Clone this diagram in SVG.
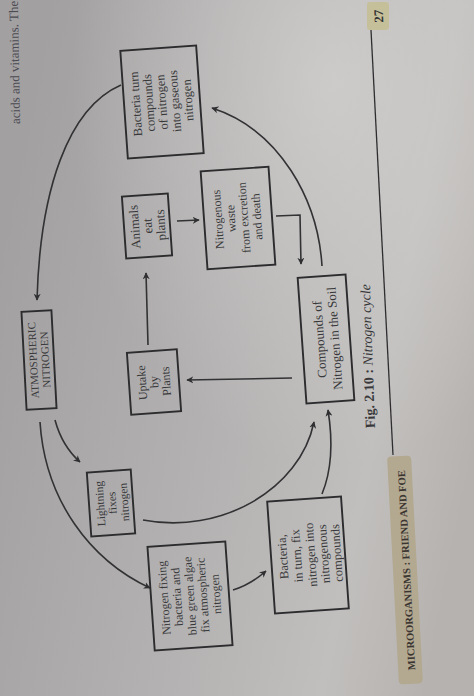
<svg xmlns="http://www.w3.org/2000/svg" width="474" height="696" viewBox="0 0 474 696">
<defs>
<linearGradient id="bg" x1="0" y1="0.35" x2="1" y2="0.65">
<stop offset="0" stop-color="#a2a0a1"/>
<stop offset="0.45" stop-color="#b2b0b0"/>
<stop offset="0.8" stop-color="#c1bfbd"/>
<stop offset="1" stop-color="#b6b2af"/>
</linearGradient>
<radialGradient id="glow" cx="0.7" cy="0.12" r="0.55">
<stop offset="0" stop-color="#d6d4d2" stop-opacity="0.7"/>
<stop offset="1" stop-color="#d6d4d2" stop-opacity="0"/>
</radialGradient>
<marker id="ah" viewBox="0 0 10 10" refX="9" refY="5" markerWidth="7" markerHeight="7" orient="auto" markerUnits="userSpaceOnUse">
<path d="M0,0 L10,5 L0,10 L3,5 z" fill="#2f2f31"/>
</marker>
<style>
.box{fill:none;stroke:#2c2c2e;stroke-width:1.9}
.t{font-family:"Liberation Serif","DejaVu Serif",serif;fill:#38383a;text-anchor:middle}
.c{fill:none;stroke:#323234;stroke-width:1.6;marker-end:url(#ah)}
</style>
</defs>
<rect width="474" height="696" fill="url(#bg)"/>
<rect width="474" height="696" fill="url(#glow)"/>

<text x="0" y="0" font-family="Liberation Serif, serif" font-size="13" fill="#4a4a52" text-anchor="start" transform="translate(20,124) rotate(-91)">acids and vitamins. The</text>

<g id="connectors">
<path class="c" d="M322,266 C318,200 280,130 212,108"/>
<path class="c" d="M121,85 C68,108 40,190 37,300"/>
<path class="c" d="M55,420 Q62,446 80,462"/>
<path class="c" d="M40,422 C45,500 90,560 150,588"/>
<path class="c" d="M143,520 C220,535 300,490 314,422"/>
<path class="c" d="M233,590 Q250,585 266,571"/>
<path class="c" d="M322,494 Q336,460 328,410"/>
<path class="c" d="M292,378 L187,380"/>
<path class="c" d="M148,345 L146,273"/>
<path class="c" d="M177,221 L199,220"/>
<path class="c" d="M276,216 L300,215 L301,264"/>
</g>

<g id="n_bacteria_turn" transform="translate(162,102) rotate(-4)">
<rect class="box" x="-38" y="-54" width="76" height="108"/>
<text class="t" style="font-size:12.5px" transform="rotate(-90)"><tspan x="0" y="-22">Bacteria turn</tspan><tspan x="0" y="-9">compounds</tspan><tspan x="0" y="4">of nitrogen</tspan><tspan x="0" y="17">into gaseous</tspan><tspan x="0" y="30">nitrogen</tspan></text>
</g>

<g id="n_animals" transform="translate(147,226) rotate(-4)">
<rect class="box" x="-23" y="-31" width="46" height="62"/>
<text class="t" style="font-size:13px" transform="rotate(-90)"><tspan x="0" y="-8">Animals</tspan><tspan x="0" y="5">eat</tspan><tspan x="0" y="18">plants</tspan></text>
</g>

<g id="n_waste" transform="translate(238,218) rotate(-4)">
<rect class="box" x="-34" y="-49" width="68" height="98"/>
<text class="t" style="font-size:12px" transform="rotate(-90)"><tspan x="0" y="-16">Nitrogenous</tspan><tspan x="0" y="-3">waste</tspan><tspan x="0" y="10">from excretion</tspan><tspan x="0" y="23">and death</tspan></text>
</g>

<g id="n_atmospheric" transform="translate(39,360) rotate(-3)">
<rect class="box" x="-15" y="-49" width="30" height="98"/>
<text class="t" style="font-size:11px" transform="rotate(-90)"><tspan x="0" y="-2">ATMOSPHERIC</tspan><tspan x="0" y="10">NITROGEN</tspan></text>
</g>

<g id="n_uptake" transform="translate(154,382) rotate(-4)">
<rect class="box" x="-25" y="-31" width="50" height="62"/>
<text class="t" style="font-size:12px" transform="rotate(-90)"><tspan x="0" y="-8">Uptake</tspan><tspan x="0" y="4">by</tspan><tspan x="0" y="16">Plants</tspan></text>
</g>

<g id="n_soil" transform="translate(326,339) rotate(-4)">
<rect class="box" x="-24" y="-63" width="48" height="126"/>
<text class="t" style="font-size:13px" transform="rotate(-90)"><tspan x="0" y="-2">Compounds of</tspan><tspan x="0" y="13">Nitrogen in the Soil</tspan></text>
</g>

<g id="n_lightning" transform="translate(111,503) rotate(-4)">
<rect class="box" x="-22" y="-32" width="44" height="64"/>
<text class="t" style="font-size:11.5px" transform="rotate(-90)"><tspan x="0" y="-7">Lightning</tspan><tspan x="0" y="5">fixes</tspan><tspan x="0" y="17">nitrogen</tspan></text>
</g>

<g id="n_fixing_bacteria" transform="translate(190,596) rotate(-4)">
<rect class="box" x="-39" y="-52" width="78" height="104"/>
<text class="t" style="font-size:12px" transform="rotate(-90)"><tspan x="0" y="-22">Nitrogen fixing</tspan><tspan x="0" y="-9">bacteria and</tspan><tspan x="0" y="4">blue green algae</tspan><tspan x="0" y="17">fix atmospheric</tspan><tspan x="0" y="30">nitrogen</tspan></text>
</g>

<g id="n_bacteria_in_turn" transform="translate(308,555) rotate(-4)">
<rect class="box" x="-37" y="-56" width="74" height="112"/>
<text class="t" style="font-size:12.5px" transform="rotate(-90)"><tspan x="0" y="-21">Bacteria,</tspan><tspan x="0" y="-7">in turn, fix</tspan><tspan x="0" y="7">nitrogen into</tspan><tspan x="0" y="20">nitrogenous</tspan><tspan x="0" y="33">compounds</tspan></text>
</g>

<text x="0" y="0" font-family="Liberation Serif, serif" font-size="14" fill="#38383a" text-anchor="start" transform="translate(375,428) rotate(-92)"><tspan font-weight="bold">Fig. 2.10 :</tspan><tspan font-style="italic"> Nitrogen cycle</tspan></text>

<line x1="371" y1="30" x2="393" y2="455" stroke="#2e2e30" stroke-width="1.3"/>
<rect x="367" y="2" width="22" height="28" rx="3" fill="#c6c09a"/>
<text x="0" y="0" font-family="Liberation Serif, serif" font-size="13" font-weight="bold" fill="#333" text-anchor="middle" transform="translate(383,16) rotate(-92)">27</text>
<rect x="393" y="456" width="24" height="228" rx="4" fill="#b3a890" transform="rotate(-3 405 570)"/>
<text x="0" y="0" font-family="Liberation Serif, serif" font-size="10.5" font-weight="bold" fill="#3a3530" text-anchor="middle" transform="translate(410,570) rotate(-93)">MICROORGANISMS : FRIEND AND FOE</text>
</svg>
